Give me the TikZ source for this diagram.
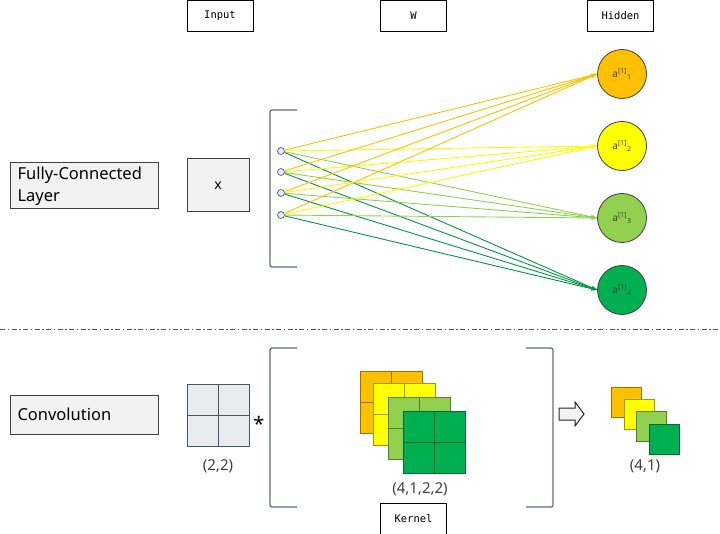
\documentclass[tikz,border=0pt]{standalone}
\usepackage{fontspec}
\setmainfont{Noto Sans}
\newfontfamily\monofont{DejaVu Sans Mono}
\usetikzlibrary{arrows.meta}
\definecolor{cOrange}{HTML}{FFC000}
\definecolor{cYellow}{HTML}{FFFF00}
\definecolor{cLGreen}{HTML}{92D050}
\definecolor{cGreen}{HTML}{00B050}
\definecolor{brk}{HTML}{5F6F82}
\definecolor{gridc}{HTML}{44546A}
\definecolor{lblfill}{HTML}{F2F2F2}
\definecolor{txtg}{HTML}{404040}
\tikzset{
  x=1bp, y=-1bp,
  topbox/.style={draw=black, fill=white, line width=0.6bp, minimum width=66bp, minimum height=31bp, inner sep=0pt, font=\monofont\fontsize{10.5bp}{12bp}\selectfont},
  lblbox/.style={draw=txtg, fill=lblfill, line width=1bp, inner sep=0pt, font=\fontsize{16.5bp}{22bp}\selectfont, align=left},
  innode/.style={circle, draw=brk, fill=blue!8, line width=0.8bp, minimum size=7bp, inner sep=0pt},
  hid/.style={circle, draw=txtg, line width=0.8bp, minimum size=49bp, inner sep=0pt, font=\fontsize{10bp}{11bp}\selectfont, text=black!75},
  conn/.style={line width=0.9bp, -{Stealth[length=6bp,width=4bp]}},
  brkline/.style={draw=brk, line width=1.2bp, rounded corners=2bp},
  dimtxt/.style={font=\fontsize{15bp}{18bp}\selectfont, text=txtg, inner sep=0pt},
}
\newcommand{\kgrid}[4]{% x y size color
  \fill[#4] (#1,#2) rectangle ++(#3,#3);
  \draw[#4!60!black, line width=0.8bp] (#1,#2) rectangle ++(#3,#3);
  \draw[#4!60!black, line width=0.8bp] ({#1+#3/2},#2) -- ++(0,#3) ({#1},{#2+#3/2}) -- ++(#3,0);
}
\begin{document}
\begin{tikzpicture}
\useasboundingbox (0,0) rectangle (720,534);
% top headers
\node[topbox] (tin) at (220,15.5) {Input};
\node[topbox] (tw) at (413.5,15.5) {W};
\node[topbox] (thid) at (620.5,15.5) {Hidden};
% fully connected
\node[lblbox, minimum height=46bp, anchor=west, text width=148bp] (fc) at (10,186) {\hspace{7bp}Fully-Connected\\\hspace{7bp}Layer};
\node[draw=txtg, fill=lblfill, line width=1bp, minimum width=62bp, minimum height=53bp, inner sep=0pt, font=\fontsize{14bp}{16bp}\selectfont] (xbox) at (218,185.5) {x};
% bracket
\draw[brkline] (297,110) -- (270,110) -- (270,267) -- (297,267);
% input nodes
\foreach \i/\y in {1/151,2/172,3/193,4/215} \node[innode] (i\i) at (281,\y) {};
% hidden nodes
\node[hid, fill=cOrange] (h1) at (622,74) {a\textsuperscript{[1]}\textsubscript{1}};
\node[hid, fill=cYellow] (h2) at (622,146) {a\textsuperscript{[1]}\textsubscript{2}};
\node[hid, fill=cLGreen] (h3) at (622,218) {a\textsuperscript{[1]}\textsubscript{3}};
\node[hid, fill=cGreen] (h4) at (622,290) {a\textsuperscript{[1]}\textsubscript{4}};
% connections
\foreach \i in {1,2,3,4} {
  \draw[conn, cOrange] (i\i) -- (h1.west);
  \draw[conn, cYellow!95!orange] (i\i) -- (h2.west);
  \draw[conn, cLGreen] (i\i) -- (h3.west);
  \draw[conn, cGreen!85!black] (i\i) -- (h4.west);
}
% separator
\draw[gray!70!black, line width=1bp, dash pattern=on 5bp off 2.5bp on 1.5bp off 2.5bp] (0,329) -- (720,329);
% convolution
\node[lblbox, minimum height=39bp, anchor=west, text width=148bp] (conv) at (10,414.5) {\hspace{7bp}Convolution};
\fill[gridc!12] (187,384) rectangle (249,446);
\draw[gridc, line width=0.9bp] (187,384) rectangle (249,446) (218,384) -- (218,446) (187,415) -- (249,415);
\node[font=\bfseries\fontsize{20bp}{20bp}\selectfont, inner sep=0pt] (star) at (259,424) {*};
\node[dimtxt] (d22) at (218,466) {(2,2)};
% big bracket
\draw[brkline] (297,348) -- (270,348) -- (270,507) -- (297,507);
\draw[brkline] (526,348) -- (553,348) -- (553,507) -- (526,507);
% kernel stack
\kgrid{360}{371}{62}{cOrange}
\kgrid{373}{383}{62}{cYellow}
\kgrid{388}{397}{62}{cLGreen}
\kgrid{403}{411}{62}{cGreen}
\node[dimtxt] (d4122) at (420,489) {(4,1,2,2)};
\node[topbox] (tk) at (413.5,518.5) {Kernel};
% hollow arrow
\draw[black!85, fill=lblfill, line width=1bp, line join=miter] (559,408) -- (575,408) -- (575,402) -- (584,414) -- (575,426) -- (575,420) -- (559,420) -- cycle;
% output squares
\foreach \x/\y/\c in {611/387/cOrange, 624/399/cYellow, 636/411/cLGreen, 649/424/cGreen} {
  \fill[\c] (\x,\y) rectangle ++(30,30);
  \draw[\c!60!black, line width=0.8bp] (\x,\y) rectangle ++(30,30);
}
\node[dimtxt] (d41) at (645,466) {(4,1)};
\end{tikzpicture}
\end{document}
